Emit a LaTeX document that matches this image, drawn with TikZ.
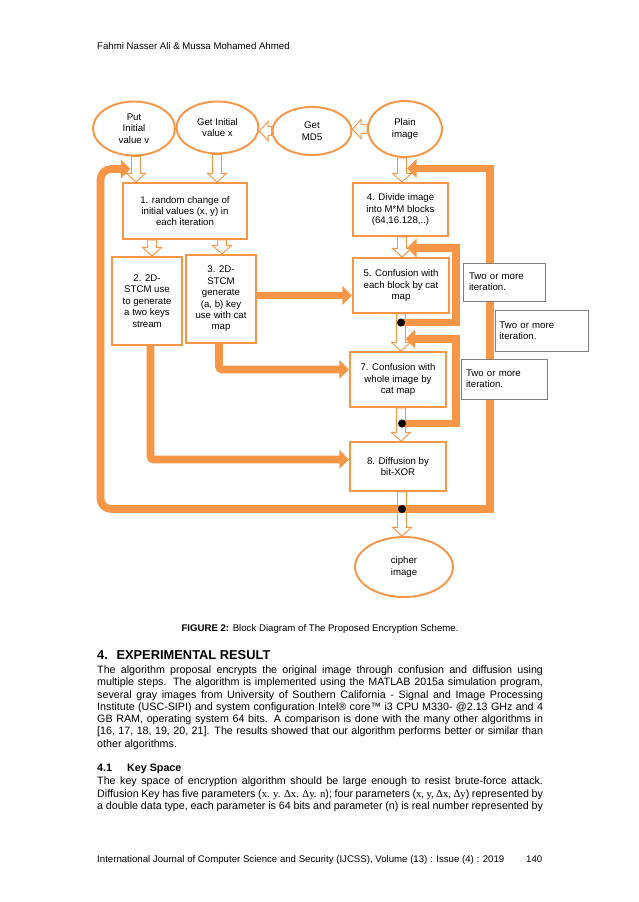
\documentclass[tikz,border=0pt]{standalone}
\usepackage{fontspec}
\setmainfont{Liberation Sans}
\newfontfamily\mathish{Liberation Serif}
\usetikzlibrary{shapes.geometric,arrows.meta,calc}
\definecolor{oc}{HTML}{F79646}
\definecolor{notec}{HTML}{7F7F7F}
\newcommand\diafont{\fontsize{9}{10.6}\selectfont}
\newcommand\bodyfont{\fontsize{10}{12}\selectfont}
\newcommand\smallfont{\fontsize{9}{11}\selectfont}
\newlength\textw
\setlength\textw{416pt}
\newcommand\jline[1]{\makebox[\textw][s]{#1}}
\pgfdeclarelayer{back}
\pgfdeclarelayer{bg}
\pgfsetlayers{back,bg,main}
\tikzset{
  box/.style={draw=oc, line width=1.8pt, fill=white, inner sep=0pt, align=center, font=\diafont},
  ell/.style={ellipse, draw=oc, line width=1.8pt, fill=white, inner sep=0pt, align=center, font=\diafont},
  note/.style={draw=notec, line width=0.8pt, fill=white, inner ysep=0pt, align=left, font=\diafont},
  bigline/.style={draw=oc, line width=7.2pt, -{Triangle[length=9pt,width=17pt]}},
  dotnode/.style={circle, fill=black, inner sep=0pt, minimum size=7.5pt},
  body/.style={anchor=base west, inner sep=0pt, font=\bodyfont},
  hollow/.style={draw=oc, fill=white, line width=0.9pt, to path={
    let \p1=(\tikztostart), \p2=(\tikztotarget), \n1={atan2(\y2-\y1,\x2-\x1)} in
    ($(\p1)+(\n1+90:4.2pt)$) -- ($(\p2)+(\n1+180:8pt)+(\n1+90:4.2pt)$) --
    ($(\p2)+(\n1+180:8pt)+(\n1+90:8.8pt)$) -- (\p2) --
    ($(\p2)+(\n1+180:8pt)+(\n1-90:8.8pt)$) -- ($(\p2)+(\n1+180:8pt)+(\n1-90:4.2pt)$) --
    ($(\p1)+(\n1-90:4.2pt)$) -- cycle}},
}
\begin{document}
\begin{tikzpicture}[x=0.9331pt,y=-0.9331pt]
\useasboundingbox (0,0) rectangle (638,902);
\begin{pgfonlayer}{back}
\fill[white] (0,0) rectangle (638,902);
\end{pgfonlayer}

% header
\node[anchor=base west, inner sep=0pt, font=\smallfont] (hdr) at (97,49) {Fahmi Nasser Ali \& Mussa Mohamed Ahmed};

% helper coordinates
\coordinate (cput) at (136,0);
\coordinate (cgetx) at (217,0);
\coordinate (cplain) at (402,0);
\coordinate (c2) at (152,0);
\coordinate (c3) at (222,0);
\coordinate (c5) at (401,0);
\coordinate (c8) at (402,0);
\coordinate (c100) at (100.5,0);
\coordinate (c150) at (150.5,0);
\coordinate (c219) at (219,0);
\coordinate (c456) at (456,0);
\coordinate (c490) at (490,0);
\coordinate (r295) at (0,295.5);
\coordinate (r369) at (0,369.5);
\coordinate (r459) at (0,459.5);
\coordinate (t1) at (130.5,169);
\coordinate (t4) at (407,168.5);
\coordinate (t5) at (407,248);
\coordinate (t7) at (405.5,339);

% ellipses
\node[ell, minimum width=76.5pt, minimum height=50.4pt] (put) at (134,128.5) {Put\\Initial\\value v};
\node[ell, minimum width=76.5pt, minimum height=48.5pt] (getx) at (217.5,127.5) {Get Initial\\value x};
\node[ell, minimum width=73.7pt, minimum height=44.8pt] (md5) at (312,131) {Get\\MD5};
\node[ell, minimum width=69pt, minimum height=52.3pt] (plain) at (405,129) {Plain\\image};
\node[ell, minimum width=91.4pt, minimum height=56pt] (cipher) at (404,567) {cipher\\image};

% boxes
\node[box, minimum width=115.7pt, minimum height=52.3pt] (b1) at (185,211) {1. random change of\\initial values (x, y) in\\each iteration};
\node[box, minimum width=88.6pt, minimum height=49.5pt] (b4) at (400.5,209.5) {4. Divide image\\into M*M blocks\\(64,16.128,..)};
\node[box, minimum width=65.3pt, minimum height=82.1pt] (b2) at (147,301) {2. 2D-\\STCM use\\to generate\\a two keys\\stream};
\node[box, minimum width=65.3pt, minimum height=82.1pt] (b3) at (221,299) {3. 2D-\\STCM\\generate\\(a, b) key\\use with cat\\map};
\node[box, minimum width=89.6pt, minimum height=51.3pt] (b5) at (401,285.5) {5. Confusion with\\each block by cat\\map};
\node[box, minimum width=89.6pt, minimum height=51.3pt] (b7) at (398,379.5) {7. Confusion with\\whole image by\\cat map};
\node[box, minimum width=89.6pt, minimum height=45.7pt] (b8) at (398,466.5) {8. Diffusion by\\bit-XOR};

% dots
\node[dotnode] (d5) at (401,322.5) {};
\node[dotnode] (d7) at (402,423.5) {};
\node[dotnode] (d8) at (402,509) {};

% notes
\node[note, minimum height=35.5pt, text width=65.3pt, inner xsep=5.6pt] (nA) at (504,282) {Two or more\\iteration.};
\node[note, minimum height=38.3pt, text width=78.4pt, inner xsep=4.2pt] (nB) at (541.5,330.5) {Two or more\\iteration.};
\node[note, minimum height=37.3pt, text width=70.8pt, inner xsep=4.7pt] (nC) at (504,379) {Two or more\\iteration.};

\begin{pgfonlayer}{bg}
% hollow arrows
\draw[hollow] (put.south -| cput) to (b1.north -| cput);
\draw[hollow] (getx.south -| cgetx) to (b1.north -| cgetx);
\draw[hollow] (md5.west) to (getx.east |- md5.west);
\draw[hollow] (plain.west) to (md5.east |- plain.west);
\draw[hollow] (plain.south -| cplain) to (b4.north -| cplain);
\draw[hollow] (b1.south -| c2) to (b2.north -| c2);
\draw[hollow] (b1.south -| c3) to (b3.north -| c3);
\draw[hollow] (b4.south -| cplain) to (b5.north -| cplain);
\draw[hollow] (b5.south -| c5) to (b7.north -| c5);
\draw[hollow] (b7.south -| c5) to (b8.north -| c5);
\draw[hollow] (b8.south -| c8) to (cipher.north -| c8);
% thick connectors
\draw[bigline] (b3.east |- r295) -- (b5.west |- r295);
\draw[bigline, rounded corners=3pt] (b3.south -| c219) |- (b7.west |- r369);
\draw[bigline, rounded corners=3pt] (b2.south -| c150) |- (b8.west |- r459);
\draw[bigline, rounded corners=10pt] (d8.center) -| (c100 |- t1) -- (t1);
\draw[bigline] (d8.center) -| (c490 |- t4) -- (t4);
\draw[bigline] (d5.center) -| (c456 |- t5) -- (t5);
\draw[bigline] (d7.center) -| (c456 |- t7) -- (t7);
\end{pgfonlayer}

% caption
\node[anchor=base, inner sep=0pt, font=\smallfont] (cap) at (320,631) {\textbf{FIGURE 2:} Block Diagram of The Proposed Encryption Scheme.};

% section heading and text
\node[anchor=base west, inner sep=0pt, font=\fontsize{12}{14}\selectfont\bfseries] (h4) at (97,659.5) {4.\hspace{8pt}EXPERIMENTAL RESULT};
\node[body] (p1) at (97,673.5) {\jline{The algorithm proposal encrypts the original image through confusion and diffusion using}};
\node[body] (p2) at (97,685.75) {\jline{multiple steps. The algorithm is implemented using the MATLAB 2015a simulation program,}};
\node[body] (p3) at (97,698) {\jline{several gray images from University of Southern California - Signal and Image Processing}};
\node[body] (p4) at (97,710.25) {\jline{Institute (USC-SIPI) and system configuration Intel® core™ i3 CPU M330- @2.13 GHz and 4}};
\node[body] (p5) at (97,722.5) {\jline{GB RAM, operating system 64 bits. A comparison is done with the many other algorithms in}};
\node[body] (p6) at (97,734.75) {\jline{[16, 17, 18, 19, 20, 21]. The results showed that our algorithm performs better or similar than}};
\node[body] (p7) at (97,747) {other algorithms.};

\node[body, font=\bodyfont\bfseries] (h41) at (97,771.5) {\makebox[28pt][l]{4.1}Key Space};
\node[body] (k1) at (97,784) {\jline{The key space of encryption algorithm should be large enough to resist brute-force attack.}};
\node[body] (k2) at (97,797) {\jline{Diffusion Key has five parameters ({\mathish x. y. Δx. Δy. n}); four parameters ({\mathish x, y, Δx, Δy}) represented by}};
\node[body] (k3) at (97,809.7) {\jline{a double data type, each parameter is 64 bits and parameter (n) is real number represented by}};

% footer
\node[anchor=base west, inner sep=0pt, font=\smallfont] (ft) at (97,862.5) {International Journal of Computer Science and Security (IJCSS), Volume (13) : Issue (4) : 2019};
\node[anchor=base east, inner sep=0pt, font=\smallfont] (pg) at (542.5,862.5) {140};
\end{tikzpicture}
\end{document}
